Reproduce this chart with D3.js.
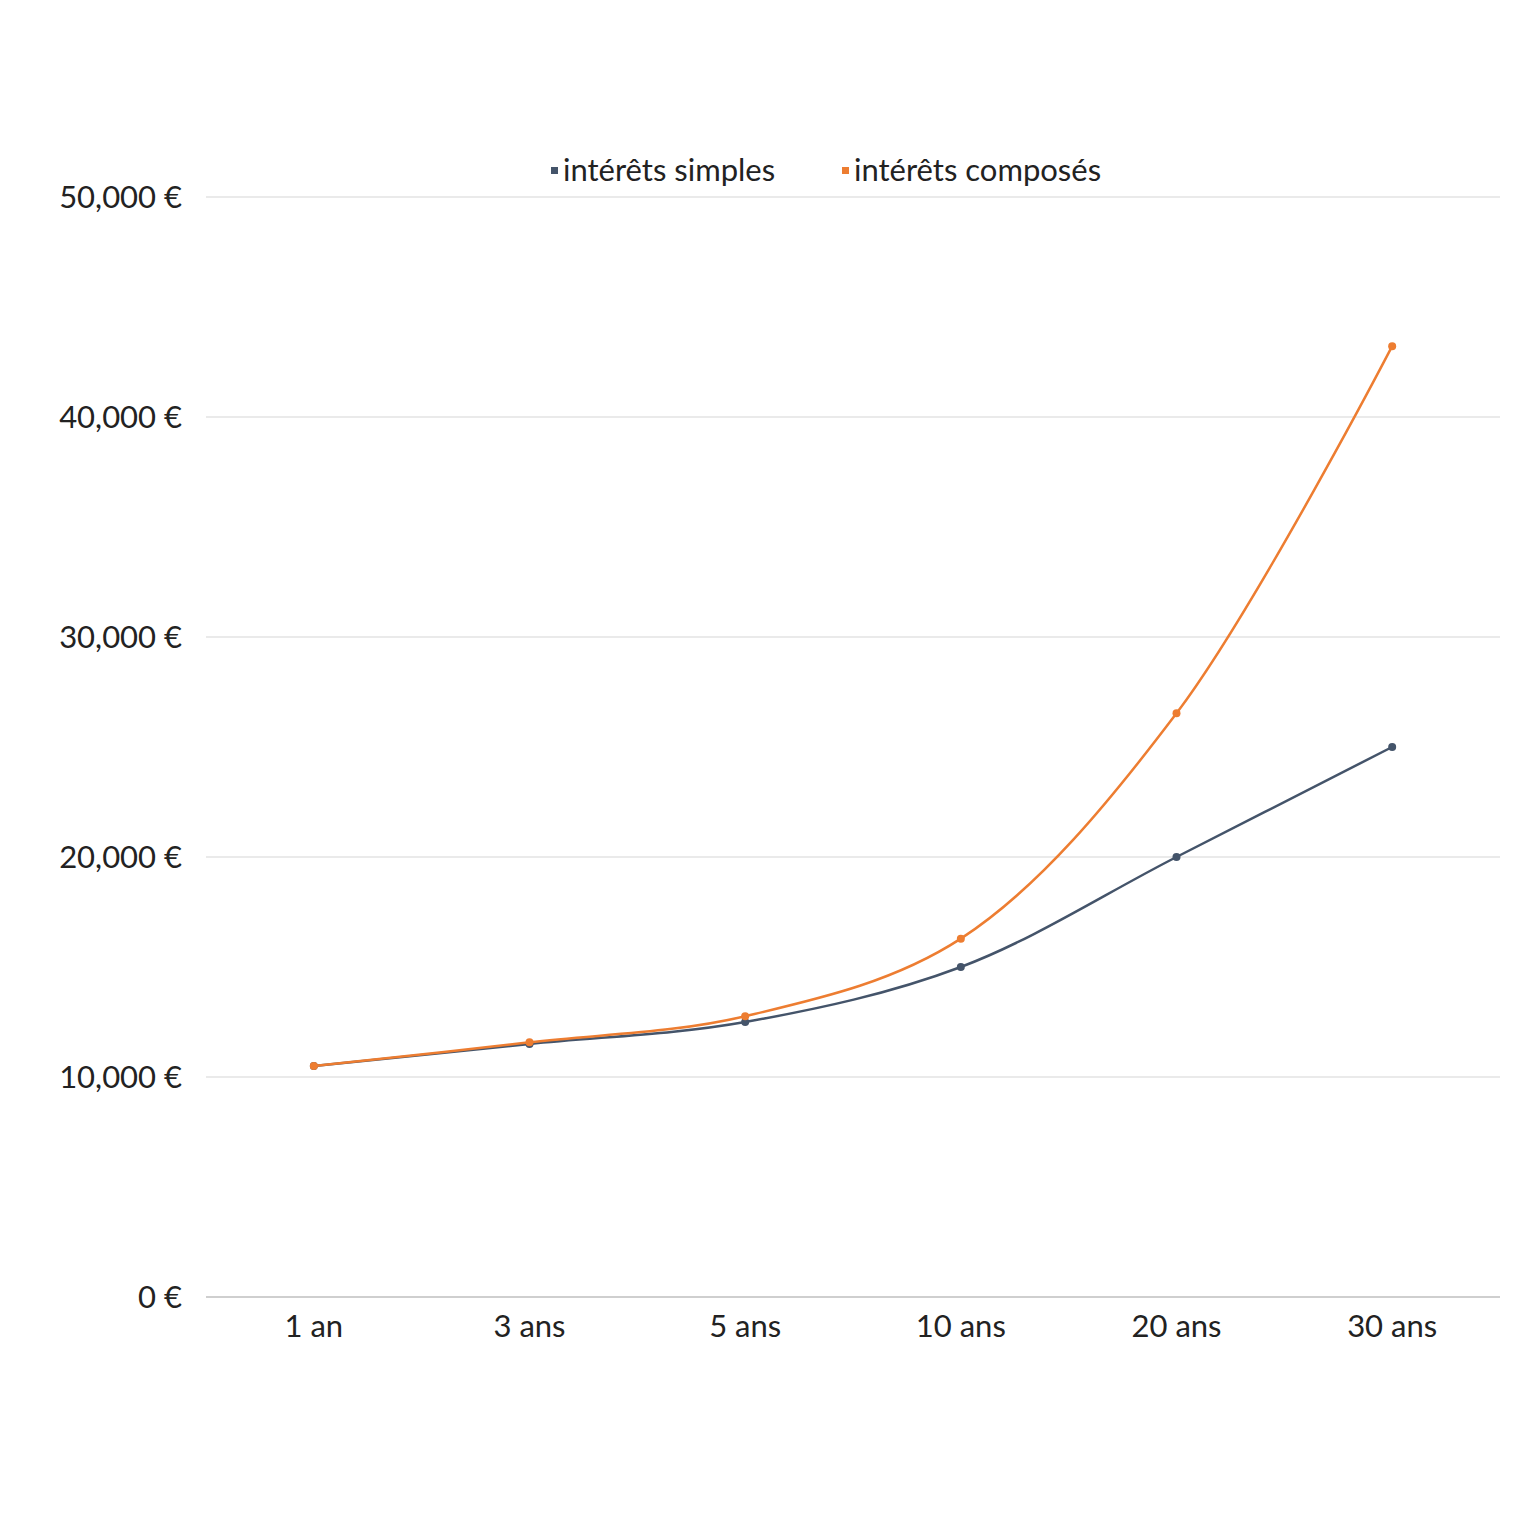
<!DOCTYPE html>
<html>
<head>
<meta charset="utf-8">
<script src="https://cdn.jsdelivr.net/npm/d3@7"></script>
<style>
  body { margin: 0; background: #fff; }
  text { font-family: Lato, "Open Sans", sans-serif; fill: #222; }
</style>
</head>
<body>
<svg id="chart" width="1536" height="1536"></svg>
<script>
(function(){
  'use strict';

  var categories = ['1 an', '3 ans', '5 ans', '10 ans', '20 ans', '30 ans'];
  var simples = [10500, 11500, 12500, 15000, 20000, 25000];
  var composes = [10500, 11576, 12763, 16289, 26533, 43219];
  var yTicks = [0, 10000, 20000, 30000, 40000, 50000];
  var seriesNames = ['intérêts simples', 'intérêts composés'];
  var colors = ['#44546A', '#ED7D31'];

  var svg = d3.select('#chart');
  var left = 206, right = 1500, top = 197, bottom = 1297;

  var x = d3.scaleBand().domain(categories).range([left, right]);
  var y = d3.scaleLinear().domain([0, 50000]).range([bottom, top]);

  // gridlines
  svg.selectAll('line.grid').data(yTicks).enter().append('line')
    .attr('x1', left).attr('x2', right)
    .attr('y1', function(d){ return y(d); }).attr('y2', function(d){ return y(d); })
    .attr('stroke', function(d){ return d === 0 ? '#bfbfbf' : '#e3e3e3'; })
    .attr('stroke-width', 1.5);

  var fmt = d3.format(',');
  svg.selectAll('text.ytick').data(yTicks).enter().append('text')
    .attr('x', 182).attr('y', function(d){ return y(d); })
    .attr('dy', '0.35em').attr('text-anchor', 'end')
    .style('font-size', '31px')
    .text(function(d){ return fmt(d) + ' €'; });

  svg.selectAll('text.xtick').data(categories).enter().append('text')
    .attr('x', function(d){ return x(d) + x.bandwidth()/2; })
    .attr('y', 1337).attr('text-anchor', 'middle')
    .style('font-size', '31px')
    .text(function(d){ return d; });

  var line = d3.line()
    .x(function(d, i){ return x(categories[i]) + x.bandwidth()/2; })
    .y(function(d){ return y(d); })
    .curve(d3.curveCatmullRom.alpha(0.5));

  [simples, composes].forEach(function(vals, k){
    svg.append('path').datum(vals)
      .attr('d', line).attr('fill', 'none')
      .attr('stroke', colors[k]).attr('stroke-width', 2.5);
    svg.selectAll(null).data(vals).enter().append('circle')
      .attr('cx', function(d, i){ return x(categories[i]) + x.bandwidth()/2; })
      .attr('cy', function(d){ return y(d); })
      .attr('r', 4).attr('fill', colors[k]);
  });

  // legend
  var lx = [551, 842];
  seriesNames.forEach(function(n, k){
    svg.append('rect').attr('x', lx[k]).attr('y', 167).attr('width', 7).attr('height', 7)
      .attr('fill', colors[k]);
    svg.append('text').attr('x', lx[k] + 12).attr('y', 181)
      .style('font-size', '31px').text(n);
  });
})();
</script>
</body>
</html>
